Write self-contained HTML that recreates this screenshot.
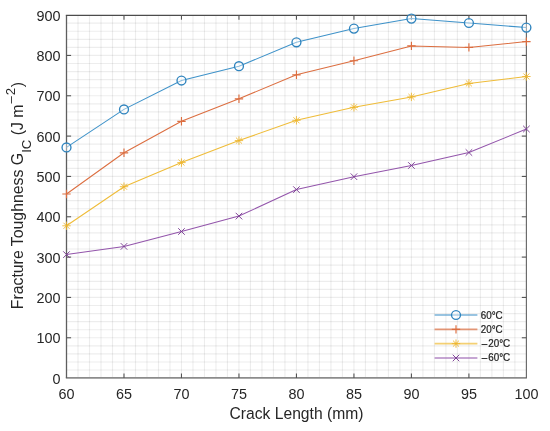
<!DOCTYPE html>
<html><head><meta charset="utf-8"><title>Fracture Toughness</title>
<style>html,body{margin:0;padding:0;background:#fff;}svg{display:block;}text{font-family:"Liberation Sans",sans-serif;fill:#262626;}</style></head><body>
<svg width="550" height="431" viewBox="0 0 550 431">
<rect width="550" height="431" fill="#fff"/>
<g stroke="#000" stroke-opacity="0.072" stroke-width="1.15" fill="none">
<line x1="78.00" y1="15.1" x2="78.00" y2="378.1"/>
<line x1="89.50" y1="15.1" x2="89.50" y2="378.1"/>
<line x1="100.99" y1="15.1" x2="100.99" y2="378.1"/>
<line x1="112.49" y1="15.1" x2="112.49" y2="378.1"/>
<line x1="123.99" y1="15.1" x2="123.99" y2="378.1"/>
<line x1="135.49" y1="15.1" x2="135.49" y2="378.1"/>
<line x1="146.98" y1="15.1" x2="146.98" y2="378.1"/>
<line x1="158.48" y1="15.1" x2="158.48" y2="378.1"/>
<line x1="169.98" y1="15.1" x2="169.98" y2="378.1"/>
<line x1="181.47" y1="15.1" x2="181.47" y2="378.1"/>
<line x1="192.97" y1="15.1" x2="192.97" y2="378.1"/>
<line x1="204.47" y1="15.1" x2="204.47" y2="378.1"/>
<line x1="215.97" y1="15.1" x2="215.97" y2="378.1"/>
<line x1="227.46" y1="15.1" x2="227.46" y2="378.1"/>
<line x1="238.96" y1="15.1" x2="238.96" y2="378.1"/>
<line x1="250.46" y1="15.1" x2="250.46" y2="378.1"/>
<line x1="261.96" y1="15.1" x2="261.96" y2="378.1"/>
<line x1="273.45" y1="15.1" x2="273.45" y2="378.1"/>
<line x1="284.95" y1="15.1" x2="284.95" y2="378.1"/>
<line x1="296.45" y1="15.1" x2="296.45" y2="378.1"/>
<line x1="307.95" y1="15.1" x2="307.95" y2="378.1"/>
<line x1="319.45" y1="15.1" x2="319.45" y2="378.1"/>
<line x1="330.94" y1="15.1" x2="330.94" y2="378.1"/>
<line x1="342.44" y1="15.1" x2="342.44" y2="378.1"/>
<line x1="353.94" y1="15.1" x2="353.94" y2="378.1"/>
<line x1="365.44" y1="15.1" x2="365.44" y2="378.1"/>
<line x1="376.93" y1="15.1" x2="376.93" y2="378.1"/>
<line x1="388.43" y1="15.1" x2="388.43" y2="378.1"/>
<line x1="399.93" y1="15.1" x2="399.93" y2="378.1"/>
<line x1="411.42" y1="15.1" x2="411.42" y2="378.1"/>
<line x1="422.92" y1="15.1" x2="422.92" y2="378.1"/>
<line x1="434.42" y1="15.1" x2="434.42" y2="378.1"/>
<line x1="445.92" y1="15.1" x2="445.92" y2="378.1"/>
<line x1="457.41" y1="15.1" x2="457.41" y2="378.1"/>
<line x1="468.91" y1="15.1" x2="468.91" y2="378.1"/>
<line x1="480.41" y1="15.1" x2="480.41" y2="378.1"/>
<line x1="491.91" y1="15.1" x2="491.91" y2="378.1"/>
<line x1="503.40" y1="15.1" x2="503.40" y2="378.1"/>
<line x1="514.90" y1="15.1" x2="514.90" y2="378.1"/>
<line x1="66.5" y1="370.03" x2="526.4" y2="370.03"/>
<line x1="66.5" y1="361.97" x2="526.4" y2="361.97"/>
<line x1="66.5" y1="353.90" x2="526.4" y2="353.90"/>
<line x1="66.5" y1="345.83" x2="526.4" y2="345.83"/>
<line x1="66.5" y1="337.77" x2="526.4" y2="337.77"/>
<line x1="66.5" y1="329.70" x2="526.4" y2="329.70"/>
<line x1="66.5" y1="321.63" x2="526.4" y2="321.63"/>
<line x1="66.5" y1="313.57" x2="526.4" y2="313.57"/>
<line x1="66.5" y1="305.50" x2="526.4" y2="305.50"/>
<line x1="66.5" y1="297.43" x2="526.4" y2="297.43"/>
<line x1="66.5" y1="289.37" x2="526.4" y2="289.37"/>
<line x1="66.5" y1="281.30" x2="526.4" y2="281.30"/>
<line x1="66.5" y1="273.23" x2="526.4" y2="273.23"/>
<line x1="66.5" y1="265.17" x2="526.4" y2="265.17"/>
<line x1="66.5" y1="257.10" x2="526.4" y2="257.10"/>
<line x1="66.5" y1="249.03" x2="526.4" y2="249.03"/>
<line x1="66.5" y1="240.97" x2="526.4" y2="240.97"/>
<line x1="66.5" y1="232.90" x2="526.4" y2="232.90"/>
<line x1="66.5" y1="224.83" x2="526.4" y2="224.83"/>
<line x1="66.5" y1="216.77" x2="526.4" y2="216.77"/>
<line x1="66.5" y1="208.70" x2="526.4" y2="208.70"/>
<line x1="66.5" y1="200.63" x2="526.4" y2="200.63"/>
<line x1="66.5" y1="192.57" x2="526.4" y2="192.57"/>
<line x1="66.5" y1="184.50" x2="526.4" y2="184.50"/>
<line x1="66.5" y1="176.43" x2="526.4" y2="176.43"/>
<line x1="66.5" y1="168.37" x2="526.4" y2="168.37"/>
<line x1="66.5" y1="160.30" x2="526.4" y2="160.30"/>
<line x1="66.5" y1="152.23" x2="526.4" y2="152.23"/>
<line x1="66.5" y1="144.17" x2="526.4" y2="144.17"/>
<line x1="66.5" y1="136.10" x2="526.4" y2="136.10"/>
<line x1="66.5" y1="128.03" x2="526.4" y2="128.03"/>
<line x1="66.5" y1="119.97" x2="526.4" y2="119.97"/>
<line x1="66.5" y1="111.90" x2="526.4" y2="111.90"/>
<line x1="66.5" y1="103.83" x2="526.4" y2="103.83"/>
<line x1="66.5" y1="95.77" x2="526.4" y2="95.77"/>
<line x1="66.5" y1="87.70" x2="526.4" y2="87.70"/>
<line x1="66.5" y1="79.63" x2="526.4" y2="79.63"/>
<line x1="66.5" y1="71.57" x2="526.4" y2="71.57"/>
<line x1="66.5" y1="63.50" x2="526.4" y2="63.50"/>
<line x1="66.5" y1="55.43" x2="526.4" y2="55.43"/>
<line x1="66.5" y1="47.37" x2="526.4" y2="47.37"/>
<line x1="66.5" y1="39.30" x2="526.4" y2="39.30"/>
<line x1="66.5" y1="31.23" x2="526.4" y2="31.23"/>
<line x1="66.5" y1="23.17" x2="526.4" y2="23.17"/>
</g>
<path d="M65.85 377.90000000000003H526.9" stroke="#8c8c8c" stroke-width="1.7" fill="none"/>
<path d="M526.4 378.1V15.1" stroke="#686868" stroke-width="1.15" fill="none"/>
<path d="M66.5 378.1V15.299999999999999" stroke="#5e5e5e" stroke-width="1.3" fill="none"/>
<path d="M65.85 15.299999999999999H527.0" stroke="#4c4c4c" stroke-width="1.3" fill="none"/>
<g stroke="#555" stroke-width="1.1" fill="none">
<line x1="123.99" y1="378.1" x2="123.99" y2="373.5"/>
<line x1="123.99" y1="15.1" x2="123.99" y2="19.7"/>
<line x1="181.47" y1="378.1" x2="181.47" y2="373.5"/>
<line x1="181.47" y1="15.1" x2="181.47" y2="19.7"/>
<line x1="238.96" y1="378.1" x2="238.96" y2="373.5"/>
<line x1="238.96" y1="15.1" x2="238.96" y2="19.7"/>
<line x1="296.45" y1="378.1" x2="296.45" y2="373.5"/>
<line x1="296.45" y1="15.1" x2="296.45" y2="19.7"/>
<line x1="353.94" y1="378.1" x2="353.94" y2="373.5"/>
<line x1="353.94" y1="15.1" x2="353.94" y2="19.7"/>
<line x1="411.42" y1="378.1" x2="411.42" y2="373.5"/>
<line x1="411.42" y1="15.1" x2="411.42" y2="19.7"/>
<line x1="468.91" y1="378.1" x2="468.91" y2="373.5"/>
<line x1="468.91" y1="15.1" x2="468.91" y2="19.7"/>
<line x1="66.5" y1="337.77" x2="71.1" y2="337.77"/>
<line x1="526.4" y1="337.77" x2="521.8" y2="337.77"/>
<line x1="66.5" y1="297.43" x2="71.1" y2="297.43"/>
<line x1="526.4" y1="297.43" x2="521.8" y2="297.43"/>
<line x1="66.5" y1="257.10" x2="71.1" y2="257.10"/>
<line x1="526.4" y1="257.10" x2="521.8" y2="257.10"/>
<line x1="66.5" y1="216.77" x2="71.1" y2="216.77"/>
<line x1="526.4" y1="216.77" x2="521.8" y2="216.77"/>
<line x1="66.5" y1="176.43" x2="71.1" y2="176.43"/>
<line x1="526.4" y1="176.43" x2="521.8" y2="176.43"/>
<line x1="66.5" y1="136.10" x2="71.1" y2="136.10"/>
<line x1="526.4" y1="136.10" x2="521.8" y2="136.10"/>
<line x1="66.5" y1="95.77" x2="71.1" y2="95.77"/>
<line x1="526.4" y1="95.77" x2="521.8" y2="95.77"/>
<line x1="66.5" y1="55.43" x2="71.1" y2="55.43"/>
<line x1="526.4" y1="55.43" x2="521.8" y2="55.43"/>
</g>
<g font-size="14.4px">
<text transform="translate(66.50,398.6) scale(1,1.05)" text-anchor="middle">60</text>
<text transform="translate(123.99,398.6) scale(1,1.05)" text-anchor="middle">65</text>
<text transform="translate(181.47,398.6) scale(1,1.05)" text-anchor="middle">70</text>
<text transform="translate(238.96,398.6) scale(1,1.05)" text-anchor="middle">75</text>
<text transform="translate(296.45,398.6) scale(1,1.05)" text-anchor="middle">80</text>
<text transform="translate(353.94,398.6) scale(1,1.05)" text-anchor="middle">85</text>
<text transform="translate(411.42,398.6) scale(1,1.05)" text-anchor="middle">90</text>
<text transform="translate(468.91,398.6) scale(1,1.05)" text-anchor="middle">95</text>
<text transform="translate(526.40,398.6) scale(1,1.05)" text-anchor="middle">100</text>
<text transform="translate(60.5,383.60) scale(1,1.05)" text-anchor="end">0</text>
<text transform="translate(60.5,343.27) scale(1,1.05)" text-anchor="end">100</text>
<text transform="translate(60.5,302.93) scale(1,1.05)" text-anchor="end">200</text>
<text transform="translate(60.5,262.60) scale(1,1.05)" text-anchor="end">300</text>
<text transform="translate(60.5,222.27) scale(1,1.05)" text-anchor="end">400</text>
<text transform="translate(60.5,181.93) scale(1,1.05)" text-anchor="end">500</text>
<text transform="translate(60.5,141.60) scale(1,1.05)" text-anchor="end">600</text>
<text transform="translate(60.5,101.27) scale(1,1.05)" text-anchor="end">700</text>
<text transform="translate(60.5,60.93) scale(1,1.05)" text-anchor="end">800</text>
<text transform="translate(60.5,20.60) scale(1,1.05)" text-anchor="end">900</text>
</g>
<text x="296.5" y="419" text-anchor="middle" font-size="15.65px">Crack Length (mm)</text>
<text transform="translate(23.0,309.3) rotate(-90)" text-anchor="start" font-size="15.85px">Fracture Toughness G<tspan font-size="13.2px" dy="7.6">IC</tspan><tspan dy="-7.6"> (J m</tspan><tspan font-size="13.2px" dy="-8.2" dx="1" letter-spacing="0.8">–2</tspan><tspan dy="8.2">)</tspan></text>
<polyline points="66.50,147.40 123.99,109.40 181.47,80.50 238.96,66.20 296.45,42.30 353.94,28.60 411.42,18.60 468.91,23.00 526.40,27.60" fill="none" stroke="#3E92C9" stroke-width="1.05" stroke-linejoin="round"/>
<circle cx="66.50" cy="147.40" r="4.45" fill="#fff" fill-opacity="0.4" stroke="#2F84BE" stroke-width="1.35"/>
<circle cx="123.99" cy="109.40" r="4.45" fill="#fff" fill-opacity="0.4" stroke="#2F84BE" stroke-width="1.35"/>
<circle cx="181.47" cy="80.50" r="4.45" fill="#fff" fill-opacity="0.4" stroke="#2F84BE" stroke-width="1.35"/>
<circle cx="238.96" cy="66.20" r="4.45" fill="#fff" fill-opacity="0.4" stroke="#2F84BE" stroke-width="1.35"/>
<circle cx="296.45" cy="42.30" r="4.45" fill="#fff" fill-opacity="0.4" stroke="#2F84BE" stroke-width="1.35"/>
<circle cx="353.94" cy="28.60" r="4.45" fill="#fff" fill-opacity="0.4" stroke="#2F84BE" stroke-width="1.35"/>
<circle cx="411.42" cy="18.60" r="4.45" fill="#fff" fill-opacity="0.4" stroke="#2F84BE" stroke-width="1.35"/>
<circle cx="468.91" cy="23.00" r="4.45" fill="#fff" fill-opacity="0.4" stroke="#2F84BE" stroke-width="1.35"/>
<circle cx="526.40" cy="27.60" r="4.45" fill="#fff" fill-opacity="0.4" stroke="#2F84BE" stroke-width="1.35"/>
<polyline points="66.50,194.00 123.99,152.80 181.47,121.30 238.96,98.80 296.45,74.80 353.94,60.70 411.42,45.90 468.91,47.40 526.40,41.60" fill="none" stroke="#DC6E40" stroke-width="1.05" stroke-linejoin="round"/>
<path d="M62.30 194.00H70.70M66.50 189.80V198.20" fill="none" stroke="#DC6E40" stroke-width="1.15"/>
<path d="M119.79 152.80H128.19M123.99 148.60V157.00" fill="none" stroke="#DC6E40" stroke-width="1.15"/>
<path d="M177.28 121.30H185.67M181.47 117.10V125.50" fill="none" stroke="#DC6E40" stroke-width="1.15"/>
<path d="M234.76 98.80H243.16M238.96 94.60V103.00" fill="none" stroke="#DC6E40" stroke-width="1.15"/>
<path d="M292.25 74.80H300.65M296.45 70.60V79.00" fill="none" stroke="#DC6E40" stroke-width="1.15"/>
<path d="M349.74 60.70H358.14M353.94 56.50V64.90" fill="none" stroke="#DC6E40" stroke-width="1.15"/>
<path d="M407.22 45.90H415.62M411.42 41.70V50.10" fill="none" stroke="#DC6E40" stroke-width="1.15"/>
<path d="M464.71 47.40H473.11M468.91 43.20V51.60" fill="none" stroke="#DC6E40" stroke-width="1.15"/>
<path d="M522.20 41.60H530.60M526.40 37.40V45.80" fill="none" stroke="#DC6E40" stroke-width="1.15"/>
<polyline points="66.50,225.80 123.99,186.70 181.47,162.60 238.96,140.60 296.45,120.30 353.94,107.30 411.42,96.90 468.91,83.40 526.40,76.50" fill="none" stroke="#EFBC38" stroke-width="1.05" stroke-linejoin="round"/>
<path d="M62.30 225.80H70.70M66.50 221.60V230.00M63.48 222.78L69.52 228.82M63.48 228.82L69.52 222.78" fill="none" stroke="#EDB52A" stroke-width="0.85"/>
<path d="M119.79 186.70H128.19M123.99 182.50V190.90M120.96 183.68L127.01 189.72M120.96 189.72L127.01 183.68" fill="none" stroke="#EDB52A" stroke-width="0.85"/>
<path d="M177.28 162.60H185.67M181.47 158.40V166.80M178.45 159.58L184.50 165.62M178.45 165.62L184.50 159.58" fill="none" stroke="#EDB52A" stroke-width="0.85"/>
<path d="M234.76 140.60H243.16M238.96 136.40V144.80M235.94 137.58L241.99 143.62M235.94 143.62L241.99 137.58" fill="none" stroke="#EDB52A" stroke-width="0.85"/>
<path d="M292.25 120.30H300.65M296.45 116.10V124.50M293.43 117.28L299.47 123.32M293.43 123.32L299.47 117.28" fill="none" stroke="#EDB52A" stroke-width="0.85"/>
<path d="M349.74 107.30H358.14M353.94 103.10V111.50M350.91 104.28L356.96 110.32M350.91 110.32L356.96 104.28" fill="none" stroke="#EDB52A" stroke-width="0.85"/>
<path d="M407.22 96.90H415.62M411.42 92.70V101.10M408.40 93.88L414.45 99.92M408.40 99.92L414.45 93.88" fill="none" stroke="#EDB52A" stroke-width="0.85"/>
<path d="M464.71 83.40H473.11M468.91 79.20V87.60M465.89 80.38L471.94 86.42M465.89 86.42L471.94 80.38" fill="none" stroke="#EDB52A" stroke-width="0.85"/>
<path d="M522.20 76.50H530.60M526.40 72.30V80.70M523.38 73.48L529.42 79.52M523.38 79.52L529.42 73.48" fill="none" stroke="#EDB52A" stroke-width="0.85"/>
<polyline points="66.50,254.60 123.99,246.40 181.47,231.50 238.96,216.10 296.45,189.60 353.94,176.70 411.42,165.50 468.91,152.50 526.40,129.00" fill="none" stroke="#9355AB" stroke-width="1.05" stroke-linejoin="round"/>
<path d="M63.22 251.32L69.78 257.88M63.22 257.88L69.78 251.32" fill="none" stroke="#7A3E92" stroke-width="0.95"/>
<path d="M120.71 243.12L127.26 249.68M120.71 249.68L127.26 243.12" fill="none" stroke="#7A3E92" stroke-width="0.95"/>
<path d="M178.20 228.22L184.75 234.78M178.20 234.78L184.75 228.22" fill="none" stroke="#7A3E92" stroke-width="0.95"/>
<path d="M235.69 212.82L242.24 219.38M235.69 219.38L242.24 212.82" fill="none" stroke="#7A3E92" stroke-width="0.95"/>
<path d="M293.17 186.32L299.73 192.88M293.17 192.88L299.73 186.32" fill="none" stroke="#7A3E92" stroke-width="0.95"/>
<path d="M350.66 173.42L357.21 179.98M350.66 179.98L357.21 173.42" fill="none" stroke="#7A3E92" stroke-width="0.95"/>
<path d="M408.15 162.22L414.70 168.78M408.15 168.78L414.70 162.22" fill="none" stroke="#7A3E92" stroke-width="0.95"/>
<path d="M465.64 149.22L472.19 155.78M465.64 155.78L472.19 149.22" fill="none" stroke="#7A3E92" stroke-width="0.95"/>
<path d="M523.12 125.72L529.68 132.28M523.12 132.28L529.68 125.72" fill="none" stroke="#7A3E92" stroke-width="0.95"/>
<line x1="434.6" y1="315" x2="477.4" y2="315" stroke="#3E92C9" stroke-opacity="0.7" stroke-width="1.6"/>
<circle cx="456.00" cy="315.00" r="4.45" fill="#fff" fill-opacity="0.4" stroke="#2F84BE" stroke-width="1.35"/>
<text transform="translate(480.7,318.9) scale(0.985,1)" font-size="10px" fill="#111" stroke="#111" stroke-width="0.2">60°C</text>
<line x1="434.6" y1="329.4" x2="477.4" y2="329.4" stroke="#DC6E40" stroke-opacity="0.7" stroke-width="1.6"/>
<path d="M451.80 329.40H460.20M456.00 325.20V333.60" fill="none" stroke="#DC6E40" stroke-width="1.15"/>
<text transform="translate(480.7,333.0) scale(0.985,1)" font-size="10px" fill="#111" stroke="#111" stroke-width="0.2">20°C</text>
<line x1="434.6" y1="343.6" x2="477.4" y2="343.6" stroke="#EFBC38" stroke-opacity="0.7" stroke-width="1.6"/>
<path d="M451.80 343.60H460.20M456.00 339.40V347.80M452.98 340.58L459.02 346.62M452.98 346.62L459.02 340.58" fill="none" stroke="#EDB52A" stroke-width="0.85"/>
<text transform="translate(480.7,347.3) scale(0.985,1)" font-size="10px" fill="#111" stroke="#111" stroke-width="0.2"><tspan dx="1">–</tspan><tspan dx="1.1">20°C</tspan></text>
<line x1="434.6" y1="358" x2="477.4" y2="358" stroke="#9355AB" stroke-opacity="0.7" stroke-width="1.6"/>
<path d="M452.72 354.72L459.28 361.28M452.72 361.28L459.28 354.72" fill="none" stroke="#7A3E92" stroke-width="0.95"/>
<text transform="translate(480.7,361.2) scale(0.985,1)" font-size="10px" fill="#111" stroke="#111" stroke-width="0.2"><tspan dx="1">–</tspan><tspan dx="1.1">60°C</tspan></text>
</svg></body></html>
